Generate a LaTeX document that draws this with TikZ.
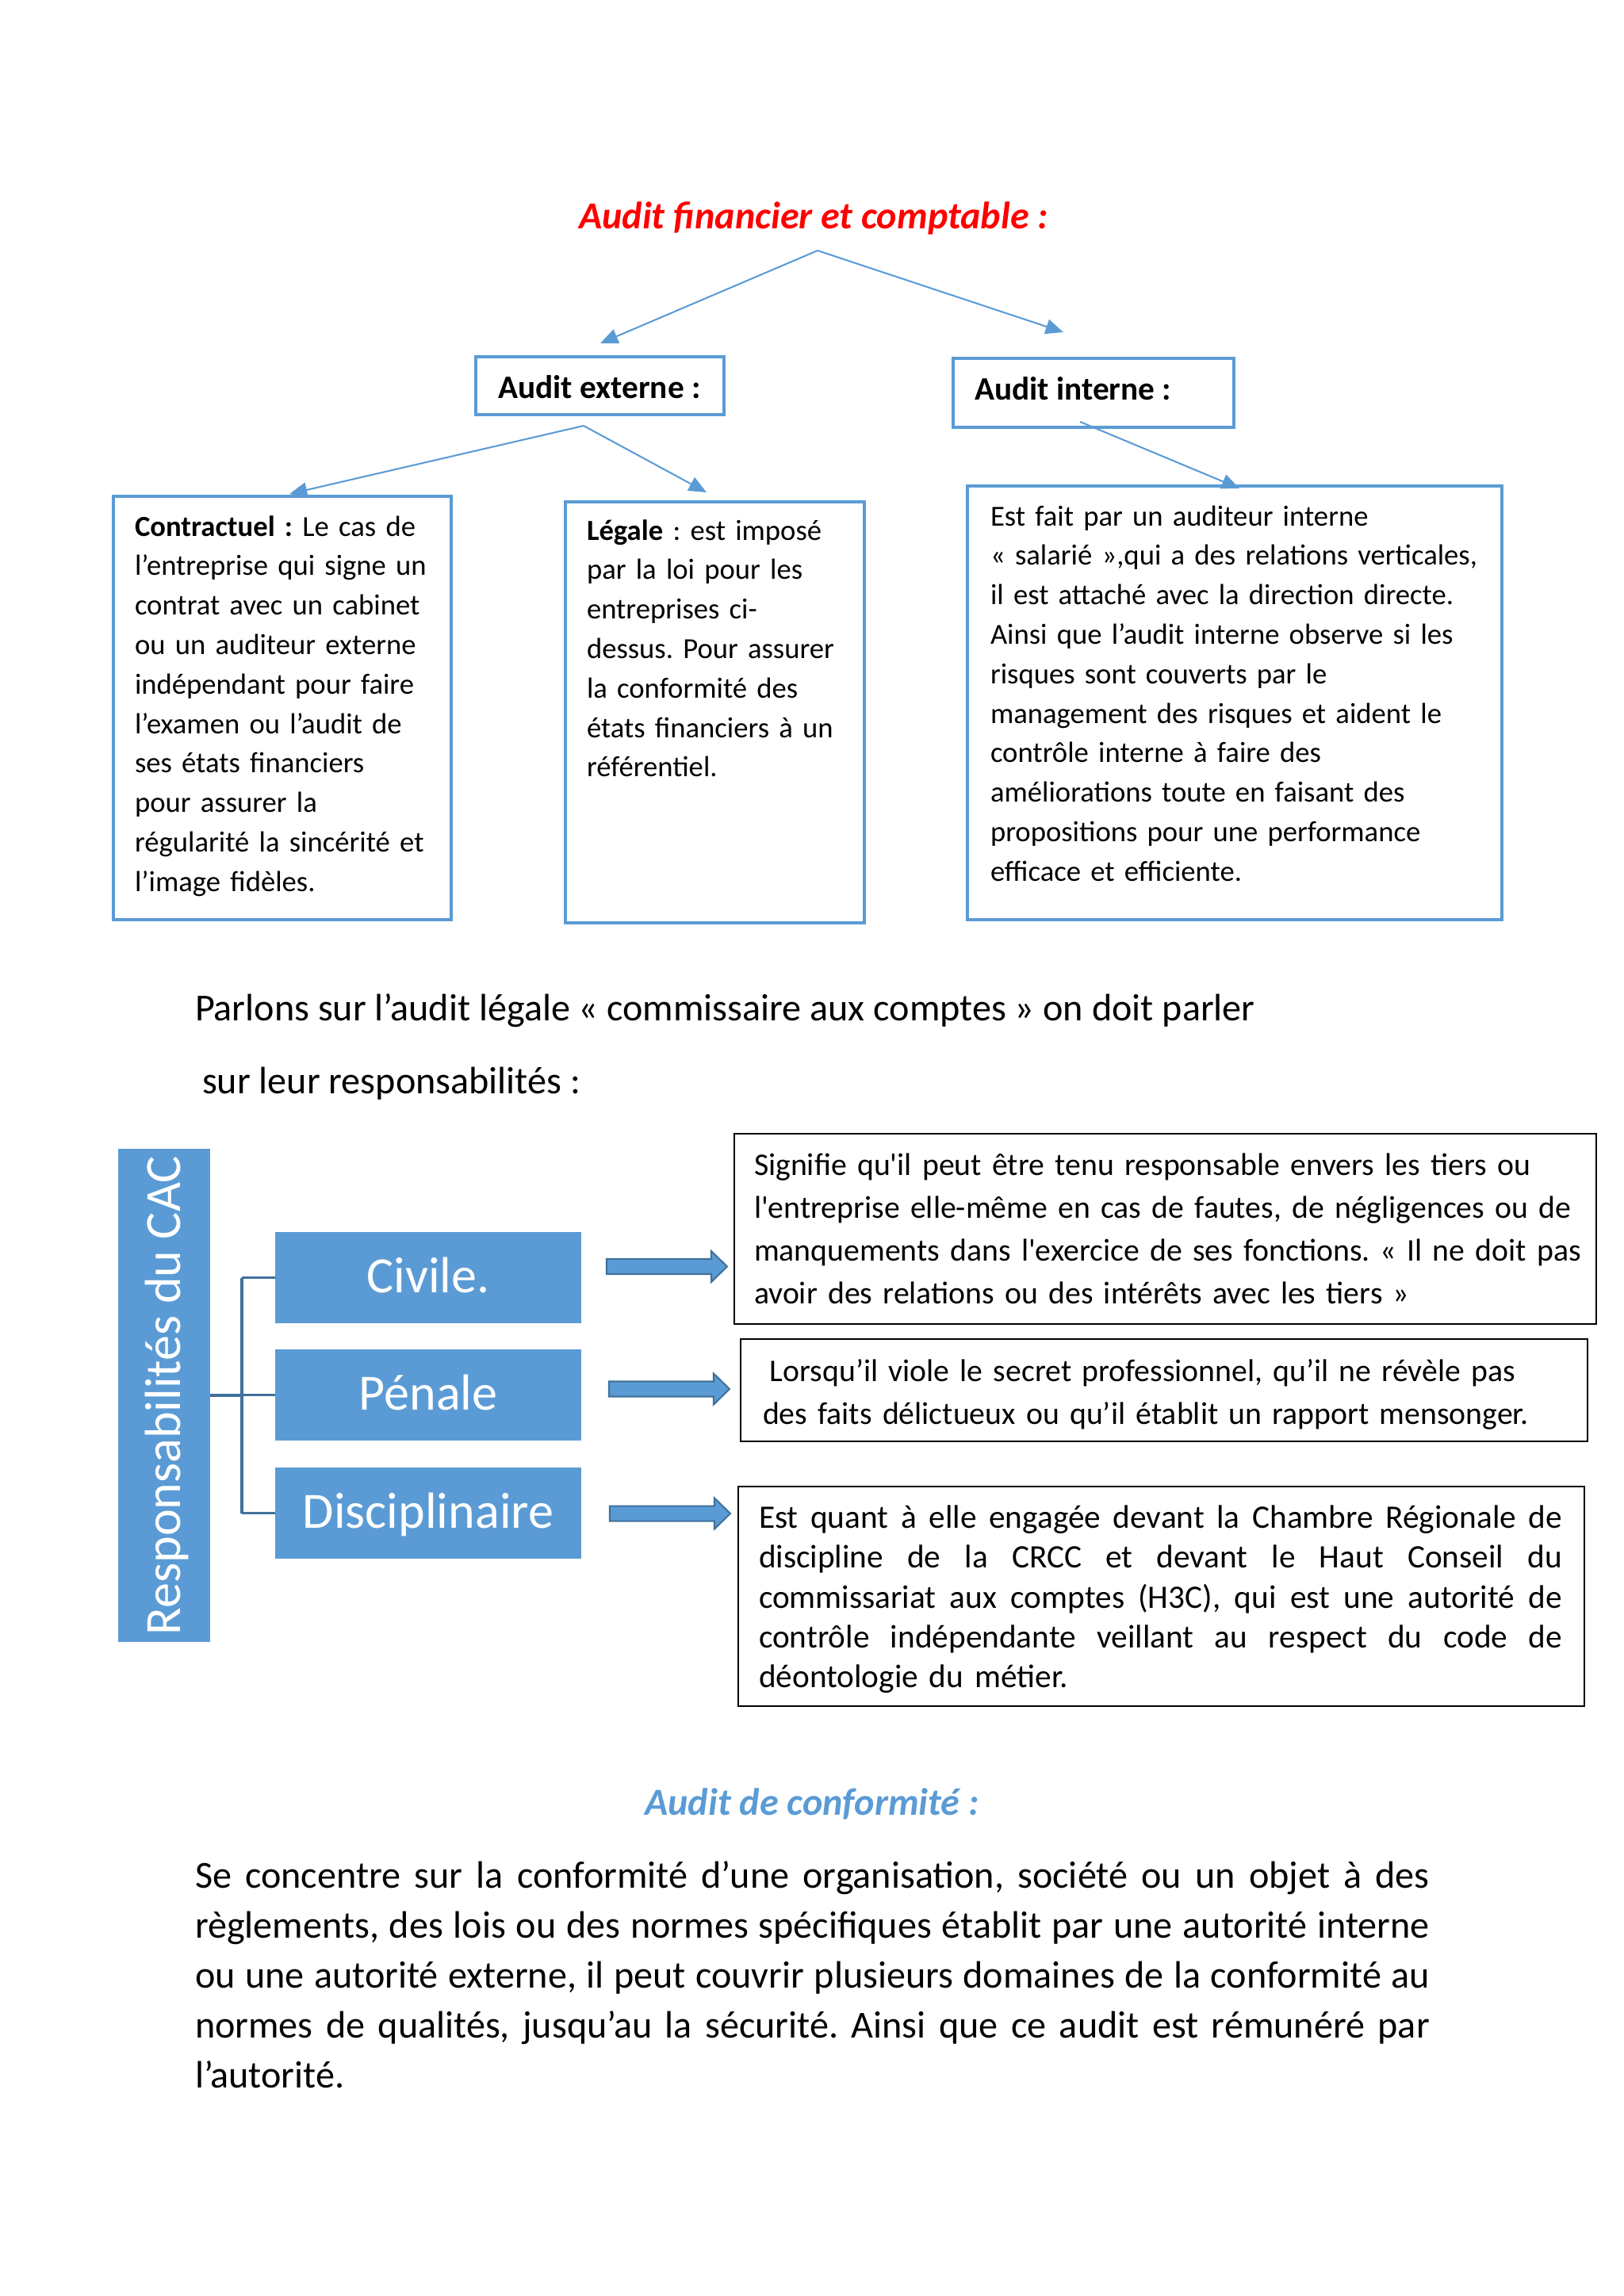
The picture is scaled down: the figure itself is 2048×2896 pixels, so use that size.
\documentclass[tikz,border=0pt]{standalone}
\usepackage{fontspec}
\setmainfont{Carlito}[Ligatures=TeXOff]
\usetikzlibrary{arrows.meta}
\definecolor{oblue}{HTML}{5B9BD5}
\definecolor{dblue}{HTML}{41719C}
\definecolor{tred}{HTML}{FF0000}
\newcommand\pw{0.291752pt}
\newcommand\jl[2]{\leavevmode\hbox to #1{\spaceskip=\fontdimen2\font plus 1fil minus 0.4\fontdimen2\font\relax #2}}
\frenchspacing
\begin{document}
\frenchspacing
\begin{tikzpicture}[x=0.291752pt, y=-0.291752pt,
  every node/.style={inner sep=0pt, outer sep=0pt},
  topbox/.style={draw=oblue, line width=0.9pt, anchor=north west},
  txtbox/.style={draw=black, line width=0.6pt, anchor=north west},
  bluebox/.style={fill=oblue, anchor=north west},
  conn/.style={draw=oblue, line width=0.6pt, -{Triangle[length=6.5pt, width=5.5pt]}},
  bline/.style={draw=dblue, line width=0.9pt},
  lt/.style={anchor=base west, align=left},
  s11/.style={font=\fontsize{10.7}{14.53}\selectfont\frenchspacing},
  s12a/.style={font=\fontsize{11.6}{15.80}\selectfont\frenchspacing},
  s12b/.style={font=\fontsize{12.05}{14.73}\selectfont\frenchspacing},
  s14/.style={font=\fontsize{14.05}{18.43}\selectfont\frenchspacing},
  big/.style={font=\fontsize{18.7}{22}\selectfont, text=white},
  blockarrow/.pic={\draw[fill=oblue, draw=dblue, line width=0.6pt, line join=miter]
    (0,-9.5) -- (132,-9.5) -- (132,-19.5) -- (152,0) -- (132,19.5) -- (132,9.5) -- (0,9.5) -- cycle;}
]
\fill[white] (0,0) rectangle (2048,2896);
\path[use as bounding box] (0,0) rectangle (2048,2896);

% ---------- top tree ----------
\node[anchor=base, font=\fontsize{14.05}{17}\selectfont\bfseries\itshape, text=tred] (title) at (1026,288) {Audit financier et comptable :};

\node[topbox, minimum width=313*\pw, minimum height=73*\pw] (ext) at (600,450) {};
\node[anchor=base, font=\fontsize{12.05}{15}\selectfont\bfseries] (extt) at (756,502) {Audit externe :};
\node[topbox, minimum width=354*\pw, minimum height=87*\pw] (int) at (1202,452) {};
\node[anchor=base west, font=\fontsize{12.05}{15}\selectfont\bfseries] (intt) at (1229,504) {Audit interne :};

\coordinate (tA) at (1031,316);
\coordinate (tL) at (757,433);
\coordinate (tR) at (1341,419);
\draw[conn] (tA) -- (tL);
\draw[conn] (tA) -- (tR);

\coordinate (eA) at (736,537);
\coordinate (eL) at (365,623);
\coordinate (eR) at (891,621);
\draw[conn] (eA) -- (eL);
\draw[conn] (eA) -- (eR);

\coordinate (iA) at (1362,532);
\coordinate (iT) at (1563,616);
\draw[conn] (iA) -- (iT);

\node[topbox, minimum width=426*\pw, minimum height=534*\pw] (cbox) at (143,626) {};
\node[lt, s11, text width=440*\pw] (ctext) at (170,676) {\textbf{Contractuel :} Le cas de\\
l’entreprise qui signe un\\
contrat avec un cabinet\\
ou un auditeur externe\\
indépendant pour faire\\
l’examen ou l’audit de\\
ses états financiers\\
pour assurer la\\
régularité la sincérité et\\
l’image fidèles.};

\node[topbox, minimum width=377*\pw, minimum height=531*\pw] (lbox) at (713,633) {};
\node[lt, s11, text width=360*\pw] (ltext) at (740,681) {\textbf{Légale} : est imposé\\
par la loi pour les\\
entreprises ci-\\
dessus. Pour assurer\\
la conformité des\\
états financiers à un\\
référentiel.};

\node[topbox, minimum width=674*\pw, minimum height=547*\pw] (ibox) at (1220,613) {};
\node[lt, s11, text width=660*\pw] (itext) at (1249,663) {Est fait par un auditeur interne\\
« salarié »,qui a des relations verticales,\\
il est attaché avec la direction directe.\\
Ainsi que l’audit interne observe si les\\
risques sont couverts par le\\
management des risques et aident le\\
contrôle interne à faire des\\
améliorations toute en faisant des\\
propositions pour une performance\\
efficace et efficiente.};

% ---------- middle text ----------
\node[anchor=base west, s14] (p1) at (246,1287) {Parlons sur l’audit légale « commissaire aux comptes » on doit parler};
\node[anchor=base west, s14] (p2) at (255,1379) {sur leur responsabilités :};

% ---------- responsabilities ----------
\node[bluebox, minimum width=116*\pw, minimum height=622*\pw] (bar) at (149,1449) {};
\node[big, rotate=90, anchor=base] (bart) at (227,1760) {Responsabilités du CAC};

\node[bluebox, minimum width=386*\pw, minimum height=115*\pw] (civ) at (347,1554) {};
\node[bluebox, minimum width=386*\pw, minimum height=115*\pw] (pen) at (347,1702) {};
\node[bluebox, minimum width=386*\pw, minimum height=115*\pw] (dis) at (347,1851) {};
\node[big, anchor=base] (civt) at (540,1630) {Civile.};
\node[big, anchor=base] (pent) at (540,1778) {Pénale};
\node[big, anchor=base] (dist) at (540,1927) {Disciplinaire};

\coordinate (jn) at (305,1760);
\draw[bline] (bar.east) -- (jn);
\draw[bline] (jn |- civ.west) -- (jn |- dis.west);
\draw[bline] (jn |- civ.west) -- (civ.west);
\draw[bline] (jn |- pen.west) -- (pen.west);
\draw[bline] (jn |- dis.west) -- (dis.west);

\pic at (765,1597.5) {blockarrow};
\pic at (768,1752) {blockarrow};
\pic at (769,1909) {blockarrow};

\node[txtbox, minimum width=1087*\pw, minimum height=240*\pw] (t1) at (926,1430) {};
\node[lt, s12a, text width=1080*\pw] (t1t) at (951,1482) {Signifie qu'il peut être tenu responsable envers les tiers ou\\
l'entreprise elle-même en cas de fautes, de négligences ou de\\
manquements dans l'exercice de ses fonctions. « Il ne doit pas\\
avoir des relations ou des intérêts avec les tiers »};

\node[txtbox, minimum width=1068*\pw, minimum height=129*\pw] (t2) at (934,1689) {};
\node[lt, s12a, text width=1060*\pw] (t2t) at (962,1742) {\hspace*{2.6pt}Lorsqu’il viole le secret professionnel, qu’il ne révèle pas\\
des faits délictueux ou qu’il établit un rapport mensonger.};

\node[txtbox, minimum width=1067*\pw, minimum height=277*\pw] (t3) at (931,1875) {};
\node[lt, s12b, text width=1030*\pw] (t3t) at (957,1927) {\jl{295.55pt}{Est quant à elle engagée devant la Chambre Régionale de}\\
\jl{295.55pt}{discipline de la CRCC et devant le Haut Conseil du}\\
\jl{295.55pt}{commissariat aux comptes (H3C), qui est une autorité de}\\
\jl{295.55pt}{contrôle indépendante veillant au respect du code de}\\
déontologie du métier.};

% ---------- bottom ----------
\node[anchor=base, font=\fontsize{14.05}{17}\selectfont\bfseries\itshape, text=oblue] (conf) at (1024,2289) {Audit de conformité :};
\node[lt, s14, text width=1600*\pw] (para) at (246,2381) {\jl{454.26pt}{Se concentre sur la conformité d’une organisation, société ou un objet à des}\\
\jl{454.26pt}{règlements, des lois ou des normes spécifiques établit par une autorité interne}\\
\jl{454.26pt}{ou une autorité externe, il peut couvrir plusieurs domaines de la conformité au}\\
\jl{454.26pt}{normes de qualités, jusqu’au la sécurité. Ainsi que ce audit est rémunéré par}\\
l’autorité.};
\end{tikzpicture}
\end{document}
